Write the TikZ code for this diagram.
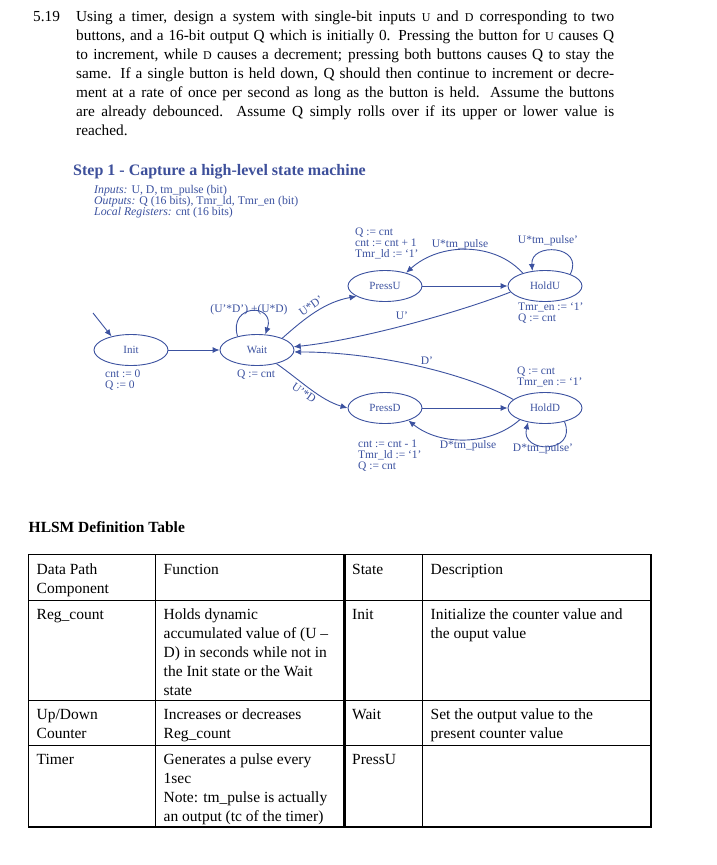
\documentclass[tikz,border=0pt]{standalone}
\usepackage{fontspec}
\setmainfont{Liberation Serif}
\usetikzlibrary{shapes.geometric,arrows.meta}
\definecolor{sm}{RGB}{60,82,160}
\definecolor{hdc}{RGB}{62,80,155}
\newcommand\smU{{\fontsize{12}{12}\selectfont U}}
\newcommand\smD{{\fontsize{12}{12}\selectfont D}}
\newcommand\pline[3]{\node[anchor=base west,inner sep=0pt,font=\fontsize{15.3}{19}\selectfont] at (#1,#2) {\makebox[538pt][s]{#3}};}
\begin{document}
\begin{tikzpicture}[x=1pt,y=-1pt,
  st/.style={ellipse,draw=sm,line width=0.9pt,minimum width=74pt,minimum height=31pt,inner sep=0pt,text=sm,font=\fontsize{11}{11}\selectfont},
  arr/.style={draw=sm,line width=0.9pt,-{Latex[length=7pt,width=6pt]}},
  lbl/.style={text=sm,font=\fontsize{11.5}{11}\selectfont,inner sep=0pt},
  tx/.style={anchor=base west,inner sep=0pt,font=\fontsize{15.5}{19}\selectfont},
  tbl/.style={line width=1.2pt},
]
\fill[white] (0,0) rectangle (717,865);
\useasboundingbox (0,0) rectangle (717,865);

% ---------- problem text ----------
\node[tx,font=\fontsize{15.3}{19}\selectfont] (num) at (33,21) {5.19};
\pline{76}{21}{Using a timer, design a system with single-bit inputs \smU\ and \smD\ corresponding to two}
\pline{76}{40}{buttons, and a 16-bit output Q which is initially 0. Pressing the button for \smU\ causes Q}
\pline{76}{59}{to increment, while \smD\ causes a decrement; pressing both buttons causes Q to stay the}
\pline{76}{78}{same. If a single button is held down, Q should then continue to increment or decre-}
\pline{76}{97}{ment at a rate of once per second as long as the button is held. Assume the buttons}
\pline{76}{116}{are already debounced. Assume Q simply rolls over if its upper or lower value is}
\node[tx,font=\fontsize{15.3}{19}\selectfont] (last) at (76,135) {reached.};

% ---------- step heading ----------
\node[anchor=base west,inner sep=0pt,text=hdc,font=\bfseries\fontsize{16}{16}\selectfont] (step) at (73,175) {Step 1 - Capture a high-level state machine};
\node[anchor=base west,inner sep=0pt,text=sm,font=\fontsize{11.8}{11}\selectfont] (in) at (94,193) {\textit{Inputs:} U, D, tm\_pulse (bit)};
\node[anchor=base west,inner sep=0pt,text=sm,font=\fontsize{11.8}{11}\selectfont] (out) at (94,204) {\textit{Outputs:} Q (16 bits), Tmr\_ld, Tmr\_en (bit)};
\node[anchor=base west,inner sep=0pt,text=sm,font=\fontsize{11.8}{11}\selectfont] (reg) at (94,215) {\textit{Local Registers:} cnt (16 bits)};

% ---------- state machine ----------
\node[st] (init) at (131,350) {Init};
\node[st] (wait) at (257,350) {Wait};
\node[st] (pu) at (385,286) {PressU};
\node[st] (hu) at (545,286) {HoldU};
\node[st] (pd) at (385,408) {PressD};
\node[st] (hd) at (545,408) {HoldD};
\coordinate (i0) at (93,313);

\draw[arr] (i0) -- (init.145);
\draw[arr] (init.east) -- (wait.west);
\draw[arr] (wait.145) .. controls (228,303) and (276,303) .. (wait.62);
\draw[arr] (wait.25) .. controls (305,318) and (325,302) .. (pu.200);
\draw[arr] (hu.190) .. controls (460,312) and (360,340) .. (wait.5);
\draw[arr] (hd.165) .. controls (470,375) and (380,352) .. (wait.-3);
\draw[arr] (wait.-35) .. controls (300,380) and (320,400) .. (pd.west);
\draw[arr] (pu.east) -- (hu.west);
\draw[arr] (pd.east) -- (hd.west);
\draw[arr] (hu.150) .. controls (495,242) and (440,242) .. (pu.32);
\draw[arr] (hu.25) .. controls (585,245) and (530,242) .. (hu.130);
\draw[arr] (hd.205) .. controls (490,446) and (440,446) .. (pd.-28);
\draw[arr] (hd.-35) .. controls (578,454) and (520,454) .. (hd.-140);

\node[lbl,anchor=north west,align=left] (apu) at (355,228) {Q := cnt\\cnt := cnt + 1\\Tmr\_ld := `1'};
\node[lbl] (l1) at (460,245) {U*tm\_pulse};
\node[lbl] (l2) at (548,241) {U*tm\_pulse'};
\node[lbl,anchor=north west,align=left] (ahu) at (518,303) {Tmr\_en := `1'\\Q := cnt};
\node[lbl] (l3) at (402,316) {U'};
\node[lbl,rotate=35] (l4) at (311,306) {U*D'};
\node[lbl] (l5) at (249,310) {(U'*D') +(U*D)};
\node[lbl,anchor=north west,align=left] (ai) at (105,370) {cnt := 0\\Q := 0};
\node[lbl,anchor=north west] (aw) at (237,370) {Q := cnt};
\node[lbl,rotate=-35] (l6) at (304,393) {U'*D};
\node[lbl] (l7) at (427,361) {D'};
\node[lbl,anchor=north west,align=left] (ahd) at (517,367) {Q := cnt\\Tmr\_en := `1'};
\node[lbl,anchor=north west,align=left] (apd) at (358,440) {cnt := cnt - 1\\Tmr\_ld := `1'\\Q := cnt};
\node[lbl] (l8) at (468,446) {D*tm\_pulse};
\node[lbl] (l9) at (543,449) {D*tm\_pulse'};

% ---------- table ----------
\node[tx,font=\bfseries\fontsize{15.5}{19}\selectfont] (ttl) at (28.5,532) {HLSM Definition Table};
\draw[tbl] (28.3,554.3) rectangle (651,827);
\draw[tbl] (28.3,600.7) -- (651,600.7);
\draw[tbl] (28.3,700.3) -- (651,700.3);
\draw[tbl] (28.3,745.3) -- (651,745.3);
\draw[tbl] (155.7,554.3) -- (155.7,827);
\draw[tbl] (422.3,554.3) -- (422.3,827);
\draw[line width=3pt] (344,554.3) -- (344,827);

\foreach \c/\y/\t in {36.5/574.3/{Data Path},36.5/593.3/{Component},163.5/574.3/{Function},352/574.3/{State},430.5/574.3/{Description},
  36.5/619.3/{Reg\_count},163.5/619.3/{Holds dynamic},163.5/638.3/{accumulated value of (U --},163.5/657.3/{D) in seconds while not in},163.5/676.3/{the Init state or the Wait},163.5/695.3/{state},
  352/619.3/{Init},430.5/619.3/{Initialize the counter value and},430.5/638.3/{the ouput value},
  36.5/719/{Up/Down},36.5/738/{Counter},163.5/719/{Increases or decreases},163.5/738/{Reg\_count},352/719/{Wait},430.5/719/{Set the output value to the},430.5/738/{present counter value},
  36.5/764/{Timer},163.5/764/{Generates a pulse every},163.5/783/{1sec},163.5/802/{Note: tm\_pulse is actually},163.5/821/{an output (tc of the timer)},352/764/{PressU}}
  \node[tx] at (\c,\y) {\t};
\end{tikzpicture}
\end{document}
